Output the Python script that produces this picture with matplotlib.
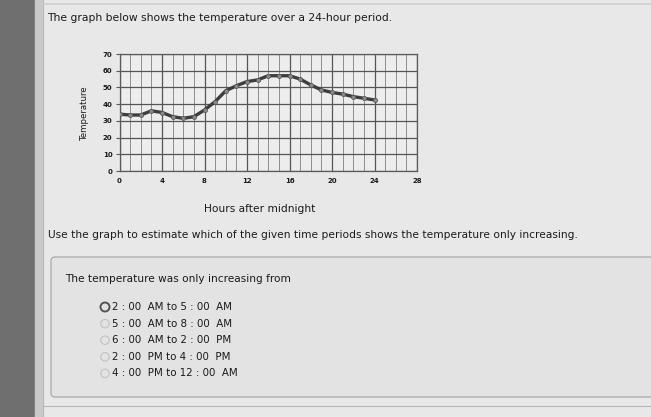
import numpy as np
import matplotlib.pyplot as plt
from matplotlib.patches import Rectangle, FancyBboxPatch, Circle

# ==========================
# Data
# ==========================

hours = np.arange(0, 25)
temps = [34, 33.5, 33.5, 36, 35, 32.5, 31.5, 32.5, 36.5, 41.5, 48, 51,
         53.5, 54.5, 57, 57, 57, 55, 51.5, 48.5, 47, 46, 44.5, 43.5, 42.5]

x_ticks = [0, 4, 8, 12, 16, 20, 24, 28]
y_ticks = [0, 10, 20, 30, 40, 50, 60, 70]

title_text = "The graph below shows the temperature over a 24-hour period."
question_text = ("Use the graph to estimate which of the given time periods "
                 "shows the temperature only increasing.")
prompt_text = "The temperature was only increasing from"
options = ["2 : 00  AM to 5 : 00  AM",
           "5 : 00  AM to 8 : 00  AM",
           "6 : 00  AM to 2 : 00  PM",
           "2 : 00  PM to 4 : 00  PM",
           "4 : 00  PM to 12 : 00  AM"]

# ==========================
# Page background
# ==========================

W, H = 651, 417
fig = plt.figure(figsize=(6.51, 4.17), dpi=100)
fig.patch.set_facecolor("#e6e6e6")

bg = fig.add_axes([0, 0, 1, 1])
bg.set_xlim(0, W)
bg.set_ylim(H, 0)
bg.axis("off")

bg.add_patch(Rectangle((0, 0), 35, H, color="#6f6f6f", zorder=0))
bg.add_patch(Rectangle((35, 0), 8, H, color="#c9c9c9", zorder=0))
bg.add_patch(Rectangle((43, 0), W - 43, H, color="#e8e8e8", zorder=0))
bg.plot([43, 43], [0, H], color="#b5b5b5", lw=0.8)
bg.plot([43, W], [406, 406], color="#b5b5b5", lw=0.8)
bg.plot([43, W], [4, 4], color="#cfcfcf", lw=1.2)

bg.add_patch(FancyBboxPatch((51, 257), W + 20 - 51, 140,
                            boxstyle="round,pad=0,rounding_size=4",
                            facecolor="#e3e3e3", edgecolor="#a9a9a9", lw=0.9))

bg.text(47, 18, title_text, fontsize=7.75, color="#1a1a1a", va="center")
bg.text(260, 209, "Hours after midnight", fontsize=7.7, color="#1a1a1a",
        ha="center", va="center")
bg.text(48, 235, question_text, fontsize=7.7, color="#1a1a1a", va="center")
bg.text(65, 279, prompt_text, fontsize=7.6, color="#1a1a1a", va="center")

for i, opt in enumerate(options):
    yy = 307 + i * 16.6
    if i == 0:
        bg.add_patch(Circle((105, yy), 4.5, facecolor="none",
                            edgecolor="#555555", lw=1.4))
    else:
        bg.add_patch(Circle((105, yy), 4.2, facecolor="none",
                            edgecolor="#c2c2c2", lw=0.8))
    bg.text(112, yy, opt, fontsize=7.4, color="#1a1a1a", va="center")

# ==========================
# Chart
# ==========================

ax = fig.add_axes([119.5 / W, 1 - 171 / H, 297.5 / W, 117 / H])
ax.set_facecolor("#ededed")

ax.plot(hours, temps, color="#3d3d3d", linewidth=2.4,
        marker="o", markersize=3, markerfacecolor="#8a8a8a",
        markeredgecolor="#555555", markeredgewidth=0.5, zorder=3)

ax.set_xlim(0, 28)
ax.set_ylim(0, 70)
ax.set_xticks(x_ticks)
ax.set_yticks(y_ticks)
ax.set_xticks(np.arange(0, 29, 1), minor=True)

ax.grid(True, which="major", color="#555555", linewidth=0.9)
ax.grid(True, which="minor", axis="x", color="#7e7e7e", linewidth=0.6)
ax.set_axisbelow(True)

for s in ax.spines.values():
    s.set_color("#5a5a5a")
    s.set_linewidth(0.9)

ax.tick_params(axis="both", which="major", labelsize=5, colors="#5a5a5a",
               labelcolor="#1a1a1a", length=3, width=0.8, pad=2)
ax.tick_params(axis="x", which="major", length=0, pad=5)
ax.tick_params(axis="x", which="minor", length=0)
for lbl in ax.get_xticklabels() + ax.get_yticklabels():
    lbl.set_fontweight("bold")

ax.set_ylabel("Temperature", fontsize=6.2, color="#1a1a1a", labelpad=10)

fig.savefig("out.png", dpi=100)
